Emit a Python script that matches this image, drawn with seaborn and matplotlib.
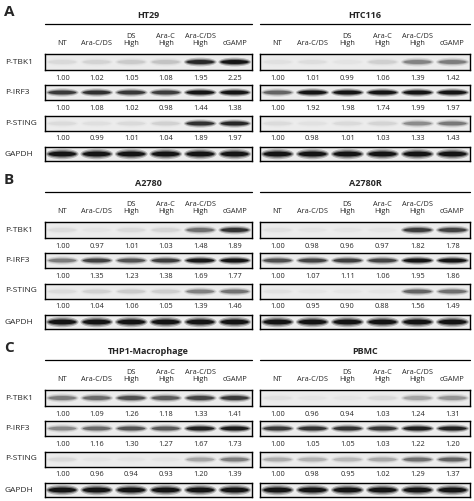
import matplotlib
matplotlib.use("Agg")
import matplotlib.pyplot as plt
import seaborn as sns
import numpy as np
from matplotlib.patches import Ellipse

sns.set_theme(style="white")
plt.rcParams['font.family'] = ['Open Sans', 'DejaVu Sans']

lanes = ["NT", "Ara-C/DS", "DS\nHigh", "Ara-C\nHigh", "Ara-C/DS\nHigh", "cGAMP"]
proteins = ["P-TBK1", "P-IRF3", "P-STING", "GAPDH"]
panels = ["A", "B", "C"]
cells = [["HT29", "HTC116"], ["A2780", "A2780R"], ["THP1-Macrophage", "PBMC"]]

HT29 = [[1.00, 1.02, 1.05, 1.08, 1.95, 2.25],
        [1.00, 1.08, 1.02, 0.98, 1.44, 1.38],
        [1.00, 0.99, 1.01, 1.04, 1.89, 1.97]]
HTC116 = [[1.00, 1.01, 0.99, 1.06, 1.39, 1.42],
          [1.00, 1.92, 1.98, 1.74, 1.99, 1.97],
          [1.00, 0.98, 1.01, 1.03, 1.33, 1.43]]
A2780 = [[1.00, 0.97, 1.01, 1.03, 1.48, 1.89],
         [1.00, 1.35, 1.23, 1.38, 1.69, 1.77],
         [1.00, 1.04, 1.06, 1.05, 1.39, 1.46]]
A2780R = [[1.00, 0.98, 0.96, 0.97, 1.82, 1.78],
          [1.00, 1.07, 1.11, 1.06, 1.95, 1.86],
          [1.00, 0.95, 0.90, 0.88, 1.56, 1.49]]
THP1 = [[1.00, 1.09, 1.26, 1.18, 1.33, 1.41],
        [1.00, 1.16, 1.30, 1.27, 1.67, 1.73],
        [1.00, 0.96, 0.94, 0.93, 1.20, 1.39]]
PBMC = [[1.00, 0.96, 0.94, 1.03, 1.24, 1.31],
        [1.00, 1.05, 1.05, 1.03, 1.22, 1.20],
        [1.00, 0.98, 0.95, 1.02, 1.29, 1.37]]
values = [[HT29, HTC116], [A2780, A2780R], [THP1, PBMC]]
# estimated visual darkness of the NT band per blot
base = [[[0.05, 0.65, 0.04], [0.03, 0.45, 0.04]],
        [[0.04, 0.35, 0.04], [0.03, 0.55, 0.03]],
        [[0.35, 0.30, 0.05], [0.03, 0.65, 0.18]]]

W, H = 474, 501
fig = plt.figure(figsize=(W / 100, H / 100), dpi=100)

def pax(x, y, w, h):
    return fig.add_axes([x / W, 1 - (y + h) / H, w / W, h / H])

bg = pax(0, 0, W, H)
bg.set_xlim(0, W); bg.set_ylim(H, 0); bg.axis("off")

strip_x = [(45, 252), (260, 470)]
offsets = [0, 168, 336]
strip_y = [54, 85, 116, 147]
strip_h = [16, 15, 15, 14]
num_y = [78, 108, 139]
row_lab_y = [62, 92, 123, 154]

for p, off in enumerate(offsets):
    bg.text(4, off + 12, panels[p], fontsize=11, fontweight="bold", va="center")
    for c in range(2):
        x0, x1 = strip_x[c]
        bg.text((x0 + x1) / 2, off + 15, cells[p][c], fontsize=6.5, fontweight="bold",
                ha="center", va="center")
        bg.plot([x0, x1], [off + 24, off + 24], color="black", lw=0.9)
        lw = (x1 - x0) / 6
        for i, lab in enumerate(lanes):
            bg.text(x0 + lw * (i + 0.5), off + 47, lab, fontsize=5.3, ha="center",
                    va="bottom", linespacing=1.0)
        for r in range(4):
            ax = pax(x0, off + strip_y[r], x1 - x0, strip_h[r])
            ax.set_facecolor("#ececec")
            ax.set_xlim(-0.5, 5.5); ax.set_ylim(0, 1)
            ax.set_xticks([]); ax.set_yticks([])
            for s in ax.spines.values():
                s.set_edgecolor("black"); s.set_linewidth(1.0); s.set_visible(True)
            if r < 3:
                vals = np.array(values[p][c][r])
                a = np.clip(base[p][c][r] + (vals - 1.0) * 0.75, 0.02, 0.9)
                for i, v in enumerate(vals):
                    bg.text(x0 + lw * (i + 0.5), off + num_y[r], f"{v:.2f}",
                            fontsize=5.3, ha="center", va="center")
                hs = 0.55
            else:
                a = np.full(6, 0.9)
                hs = 0.75
            for i in range(6):
                for ww, hh, f in [(0.95, 1.0, 0.25), (0.88, 0.7, 0.45), (0.8, 0.45, 0.9)]:
                    ax.add_patch(Ellipse((i, 0.5), ww, hh * hs,
                                         color="black", alpha=min(1, a[i] * f), lw=0))
    for r in range(4):
        bg.text(5, off + row_lab_y[r], proteins[r], fontsize=6, va="center")

fig.savefig("out.png", dpi=100)
